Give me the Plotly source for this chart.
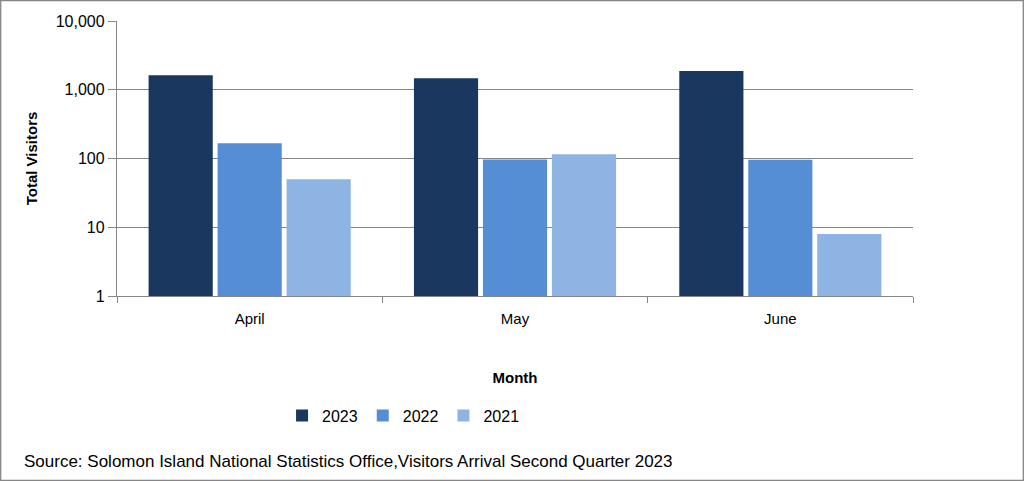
import plotly.graph_objects as go

months = ["April", "May", "June"]
series_names = ["2023", "2022", "2021"]
v2023 = [1630, 1475, 1870]
v2022 = [167, 97, 96]
v2021 = [50, 115, 8]
colors = ["#1A375F", "#558ED5", "#8EB4E3"]

W, H = 1024, 481
ml, mr, mt, mb = 117, 111, 21, 185
pw, ph = W - ml - mr, H - mt - mb

font = "Liberation Sans"
fig = go.Figure()
for name, vals, c in zip(series_names, [v2023, v2022, v2021], colors):
    fig.add_trace(go.Bar(x=months, y=vals, name=name, marker=dict(color=c, line=dict(width=0))))

fig.update_layout(
    width=W, height=H,
    margin=dict(l=ml, r=mr, t=mt, b=mb),
    paper_bgcolor="white", plot_bgcolor="white",
    barmode="group", bargap=0.22, bargroupgap=0.07,
    font=dict(family=font, size=15, color="#000000"),
    showlegend=True,
    legend=dict(orientation="h", x=0.36, xanchor="center", y=-0.435, yanchor="middle",
                font=dict(size=16), itemwidth=30, traceorder="normal"),
    xaxis=dict(
        showline=True, linecolor="#868686", linewidth=1.3,
        ticks="outside", tickson="boundaries", ticklen=6, tickcolor="#868686", tickwidth=1.3,
        tickfont=dict(size=15), ticklabelstandoff=9,
        title=dict(text="<b>Month</b>", font=dict(size=15), standoff=46),
    ),
    yaxis=dict(
        type="log", range=[0, 4], dtick=1, tickformat=",",
        showline=True, linecolor="#868686", linewidth=1.3,
        showgrid=True, gridcolor="#868686", gridwidth=1.3,
        ticks="outside", ticklen=8, tickcolor="#868686", tickwidth=1.3,
        tickfont=dict(size=16),
        title=dict(text="<b>Total Visitors</b>", font=dict(size=15), standoff=14),
        zeroline=False,
    ),
)

# outer border of the chart
fig.add_shape(type="rect", xref="paper", yref="paper",
              x0=(-ml + 0.7) / pw, x1=1 + (mr - 0.7) / pw,
              y0=-(mb - 0.7) / ph, y1=1 + (mt - 0.7) / ph,
              line=dict(color="#868686", width=1.3), fillcolor="rgba(0,0,0,0)", layer="below")

fig.add_annotation(text="Source: Solomon Island National Statistics Office,Visitors Arrival Second Quarter 2023",
                   xref="paper", yref="paper", x=(22 - ml) / pw, y=-(461 - mt - ph) / ph,
                   xanchor="left", yanchor="middle", showarrow=False, font=dict(size=17))

fig.write_html("out.html", config={"displayModeBar": False},
               post_script="document.body.style.margin='0px';document.body.style.padding='0px';")
